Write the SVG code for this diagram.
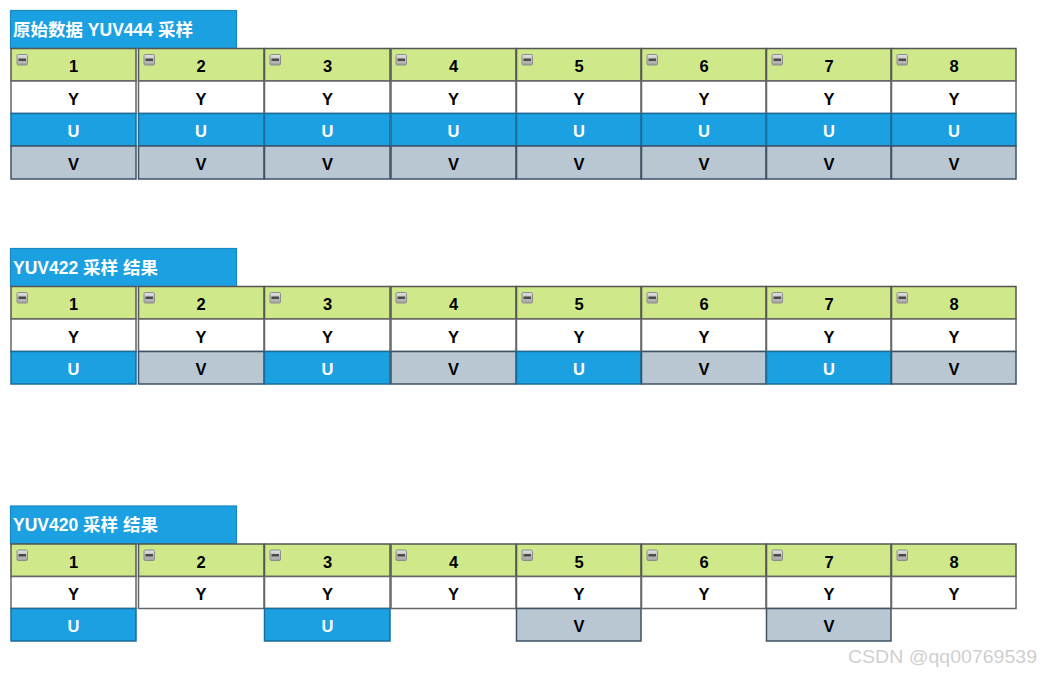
<svg xmlns="http://www.w3.org/2000/svg" xmlns:xlink="http://www.w3.org/1999/xlink" width="1041" height="674" viewBox="0 0 1041 674">
<defs>
<style>
.title{fill:#1ba1e2;stroke:#1a86c4;stroke-width:1.2}
.tt{font-family:"Liberation Sans","Noto Sans CJK SC",sans-serif;font-weight:bold;font-size:17.5px;fill:#fff}
.h{fill:#cfe98a;stroke:#555;stroke-width:1.5}
.y{fill:#fff;stroke:#666;stroke-width:1.5}
.u{fill:#1ba1e2;stroke:#1a6c9c;stroke-width:1.5}
.v{fill:#b9c7d2;stroke:#3e5264;stroke-width:1.5}
.t{font-family:"Liberation Sans",Arial,sans-serif;font-weight:bold;font-size:16.5px;text-anchor:middle;fill:#000}
.tw{font-family:"Liberation Sans",Arial,sans-serif;font-weight:bold;font-size:16.5px;text-anchor:middle;fill:#fff}
.wm{font-family:"Liberation Sans",Arial,sans-serif;font-size:19px;fill:#cfcfcf}
</style>
<linearGradient id="mg" x1="0" y1="0" x2="0" y2="1">
<stop offset="0" stop-color="#e4e4e4"/>
<stop offset="1" stop-color="#a0a0a0"/>
</linearGradient>
<g id="minus">
<rect x="0.5" y="0.5" width="10.5" height="10.5" rx="1.2" fill="url(#mg)" stroke="#8c8c8c" stroke-width="1"/>
<rect x="2" y="4.5" width="7.5" height="2.5" fill="#4a4a4a"/>
</g>
</defs>
<rect width="1041" height="674" fill="#fff"/>

<!-- Section 1 -->
<g id="title1">
<rect class="title" x="10.5" y="10.5" width="226" height="38"/>
<text class="tt" x="13" y="36">原始数据 YUV444 采样</text>
</g>
<g id="s1">
<g id="s1c1"><rect class="h" x="11" y="48.5" width="125" height="32.5"/><use xlink:href="#minus" x="16.5" y="54"/><text class="t" x="73.5" y="72">1</text>
<rect class="y" x="11" y="81" width="125" height="32.5"/><text class="t" x="73.5" y="105">Y</text>
<rect class="u" x="11" y="113.5" width="125" height="32.5"/><text class="tw" x="73.5" y="137">U</text>
<rect class="v" x="11" y="146" width="125" height="33"/><text class="t" x="73.5" y="170">V</text></g>
<g id="s1c2"><rect class="h" x="138.5" y="48.5" width="125.5" height="32.5"/><use xlink:href="#minus" x="143.5" y="54"/><text class="t" x="201" y="72">2</text>
<rect class="y" x="138.5" y="81" width="125.5" height="32.5"/><text class="t" x="201" y="105">Y</text>
<rect class="u" x="138.5" y="113.5" width="125.5" height="32.5"/><text class="tw" x="201" y="137">U</text>
<rect class="v" x="138.5" y="146" width="125.5" height="33"/><text class="t" x="201" y="170">V</text></g>
<g id="s1c3"><rect class="h" x="264.5" y="48.5" width="125.5" height="32.5"/><use xlink:href="#minus" x="269.5" y="54"/><text class="t" x="327.5" y="72">3</text>
<rect class="y" x="264.5" y="81" width="125.5" height="32.5"/><text class="t" x="327.5" y="105">Y</text>
<rect class="u" x="264.5" y="113.5" width="125.5" height="32.5"/><text class="tw" x="327.5" y="137">U</text>
<rect class="v" x="264.5" y="146" width="125.5" height="33"/><text class="t" x="327.5" y="170">V</text></g>
<g id="s1c4"><rect class="h" x="391" y="48.5" width="125" height="32.5"/><use xlink:href="#minus" x="395.5" y="54"/><text class="t" x="453.5" y="72">4</text>
<rect class="y" x="391" y="81" width="125" height="32.5"/><text class="t" x="453.5" y="105">Y</text>
<rect class="u" x="391" y="113.5" width="125" height="32.5"/><text class="tw" x="453.5" y="137">U</text>
<rect class="v" x="391" y="146" width="125" height="33"/><text class="t" x="453.5" y="170">V</text></g>
<g id="s1c5"><rect class="h" x="516.5" y="48.5" width="124.5" height="32.5"/><use xlink:href="#minus" x="521.5" y="54"/><text class="t" x="579" y="72">5</text>
<rect class="y" x="516.5" y="81" width="124.5" height="32.5"/><text class="t" x="579" y="105">Y</text>
<rect class="u" x="516.5" y="113.5" width="124.5" height="32.5"/><text class="tw" x="579" y="137">U</text>
<rect class="v" x="516.5" y="146" width="124.5" height="33"/><text class="t" x="579" y="170">V</text></g>
<g id="s1c6"><rect class="h" x="641.5" y="48.5" width="124.5" height="32.5"/><use xlink:href="#minus" x="646.5" y="54"/><text class="t" x="704" y="72">6</text>
<rect class="y" x="641.5" y="81" width="124.5" height="32.5"/><text class="t" x="704" y="105">Y</text>
<rect class="u" x="641.5" y="113.5" width="124.5" height="32.5"/><text class="tw" x="704" y="137">U</text>
<rect class="v" x="641.5" y="146" width="124.5" height="33"/><text class="t" x="704" y="170">V</text></g>
<g id="s1c7"><rect class="h" x="766.5" y="48.5" width="124.5" height="32.5"/><use xlink:href="#minus" x="771.5" y="54"/><text class="t" x="829" y="72">7</text>
<rect class="y" x="766.5" y="81" width="124.5" height="32.5"/><text class="t" x="829" y="105">Y</text>
<rect class="u" x="766.5" y="113.5" width="124.5" height="32.5"/><text class="tw" x="829" y="137">U</text>
<rect class="v" x="766.5" y="146" width="124.5" height="33"/><text class="t" x="829" y="170">V</text></g>
<g id="s1c8"><rect class="h" x="891.5" y="48.5" width="124.5" height="32.5"/><use xlink:href="#minus" x="896.5" y="54"/><text class="t" x="954" y="72">8</text>
<rect class="y" x="891.5" y="81" width="124.5" height="32.5"/><text class="t" x="954" y="105">Y</text>
<rect class="u" x="891.5" y="113.5" width="124.5" height="32.5"/><text class="tw" x="954" y="137">U</text>
<rect class="v" x="891.5" y="146" width="124.5" height="33"/><text class="t" x="954" y="170">V</text></g>
</g>

<!-- Section 2 -->
<g id="title2">
<rect class="title" x="10.5" y="248.5" width="226" height="38"/>
<text class="tt" x="13" y="274">YUV422 采样 结果</text>
</g>
<g id="s2">
<g id="s2c1"><rect class="h" x="11" y="286.5" width="125" height="32.5"/><use xlink:href="#minus" x="16.5" y="292"/><text class="t" x="73.5" y="310">1</text>
<rect class="y" x="11" y="319" width="125" height="32.5"/><text class="t" x="73.5" y="343">Y</text>
<rect class="u" x="11" y="351.5" width="125" height="32.5"/><text class="tw" x="73.5" y="375">U</text></g>
<g id="s2c2"><rect class="h" x="138.5" y="286.5" width="125.5" height="32.5"/><use xlink:href="#minus" x="143.5" y="292"/><text class="t" x="201" y="310">2</text>
<rect class="y" x="138.5" y="319" width="125.5" height="32.5"/><text class="t" x="201" y="343">Y</text>
<rect class="v" x="138.5" y="351.5" width="125.5" height="32.5"/><text class="t" x="201" y="375">V</text></g>
<g id="s2c3"><rect class="h" x="264.5" y="286.5" width="125.5" height="32.5"/><use xlink:href="#minus" x="269.5" y="292"/><text class="t" x="327.5" y="310">3</text>
<rect class="y" x="264.5" y="319" width="125.5" height="32.5"/><text class="t" x="327.5" y="343">Y</text>
<rect class="u" x="264.5" y="351.5" width="125.5" height="32.5"/><text class="tw" x="327.5" y="375">U</text></g>
<g id="s2c4"><rect class="h" x="391" y="286.5" width="125" height="32.5"/><use xlink:href="#minus" x="395.5" y="292"/><text class="t" x="453.5" y="310">4</text>
<rect class="y" x="391" y="319" width="125" height="32.5"/><text class="t" x="453.5" y="343">Y</text>
<rect class="v" x="391" y="351.5" width="125" height="32.5"/><text class="t" x="453.5" y="375">V</text></g>
<g id="s2c5"><rect class="h" x="516.5" y="286.5" width="124.5" height="32.5"/><use xlink:href="#minus" x="521.5" y="292"/><text class="t" x="579" y="310">5</text>
<rect class="y" x="516.5" y="319" width="124.5" height="32.5"/><text class="t" x="579" y="343">Y</text>
<rect class="u" x="516.5" y="351.5" width="124.5" height="32.5"/><text class="tw" x="579" y="375">U</text></g>
<g id="s2c6"><rect class="h" x="641.5" y="286.5" width="124.5" height="32.5"/><use xlink:href="#minus" x="646.5" y="292"/><text class="t" x="704" y="310">6</text>
<rect class="y" x="641.5" y="319" width="124.5" height="32.5"/><text class="t" x="704" y="343">Y</text>
<rect class="v" x="641.5" y="351.5" width="124.5" height="32.5"/><text class="t" x="704" y="375">V</text></g>
<g id="s2c7"><rect class="h" x="766.5" y="286.5" width="124.5" height="32.5"/><use xlink:href="#minus" x="771.5" y="292"/><text class="t" x="829" y="310">7</text>
<rect class="y" x="766.5" y="319" width="124.5" height="32.5"/><text class="t" x="829" y="343">Y</text>
<rect class="u" x="766.5" y="351.5" width="124.5" height="32.5"/><text class="tw" x="829" y="375">U</text></g>
<g id="s2c8"><rect class="h" x="891.5" y="286.5" width="124.5" height="32.5"/><use xlink:href="#minus" x="896.5" y="292"/><text class="t" x="954" y="310">8</text>
<rect class="y" x="891.5" y="319" width="124.5" height="32.5"/><text class="t" x="954" y="343">Y</text>
<rect class="v" x="891.5" y="351.5" width="124.5" height="32.5"/><text class="t" x="954" y="375">V</text></g>
</g>

<!-- Section 3 -->
<g id="title3">
<rect class="title" x="10.5" y="506" width="226" height="38"/>
<text class="tt" x="13" y="531">YUV420 采样 结果</text>
</g>
<g id="s3">
<g id="s3c1"><rect class="h" x="11" y="544" width="125" height="32.5"/><use xlink:href="#minus" x="16.5" y="549.5"/><text class="t" x="73.5" y="567.5">1</text>
<rect class="y" x="11" y="576.5" width="125" height="32"/><text class="t" x="73.5" y="600">Y</text>
<rect class="u" x="11" y="608.5" width="125" height="32.5"/><text class="tw" x="73.5" y="632">U</text></g>
<g id="s3c2"><rect class="h" x="138.5" y="544" width="125.5" height="32.5"/><use xlink:href="#minus" x="143.5" y="549.5"/><text class="t" x="201" y="567.5">2</text>
<rect class="y" x="138.5" y="576.5" width="125.5" height="32"/><text class="t" x="201" y="600">Y</text></g>
<g id="s3c3"><rect class="h" x="264.5" y="544" width="125.5" height="32.5"/><use xlink:href="#minus" x="269.5" y="549.5"/><text class="t" x="327.5" y="567.5">3</text>
<rect class="y" x="264.5" y="576.5" width="125.5" height="32"/><text class="t" x="327.5" y="600">Y</text>
<rect class="u" x="264.5" y="608.5" width="125.5" height="32.5"/><text class="tw" x="327.5" y="632">U</text></g>
<g id="s3c4"><rect class="h" x="391" y="544" width="125" height="32.5"/><use xlink:href="#minus" x="395.5" y="549.5"/><text class="t" x="453.5" y="567.5">4</text>
<rect class="y" x="391" y="576.5" width="125" height="32"/><text class="t" x="453.5" y="600">Y</text></g>
<g id="s3c5"><rect class="h" x="516.5" y="544" width="124.5" height="32.5"/><use xlink:href="#minus" x="521.5" y="549.5"/><text class="t" x="579" y="567.5">5</text>
<rect class="y" x="516.5" y="576.5" width="124.5" height="32"/><text class="t" x="579" y="600">Y</text>
<rect class="v" x="516.5" y="608.5" width="124.5" height="32.5"/><text class="t" x="579" y="632">V</text></g>
<g id="s3c6"><rect class="h" x="641.5" y="544" width="124.5" height="32.5"/><use xlink:href="#minus" x="646.5" y="549.5"/><text class="t" x="704" y="567.5">6</text>
<rect class="y" x="641.5" y="576.5" width="124.5" height="32"/><text class="t" x="704" y="600">Y</text></g>
<g id="s3c7"><rect class="h" x="766.5" y="544" width="124.5" height="32.5"/><use xlink:href="#minus" x="771.5" y="549.5"/><text class="t" x="829" y="567.5">7</text>
<rect class="y" x="766.5" y="576.5" width="124.5" height="32"/><text class="t" x="829" y="600">Y</text>
<rect class="v" x="766.5" y="608.5" width="124.5" height="32.5"/><text class="t" x="829" y="632">V</text></g>
<g id="s3c8"><rect class="h" x="891.5" y="544" width="124.5" height="32.5"/><use xlink:href="#minus" x="896.5" y="549.5"/><text class="t" x="954" y="567.5">8</text>
<rect class="y" x="891.5" y="576.5" width="124.5" height="32"/><text class="t" x="954" y="600">Y</text></g>
</g>

<g id="connectors"></g>

<text class="wm" x="848" y="663" textLength="189" lengthAdjust="spacingAndGlyphs">CSDN @qq00769539</text>
</svg>
